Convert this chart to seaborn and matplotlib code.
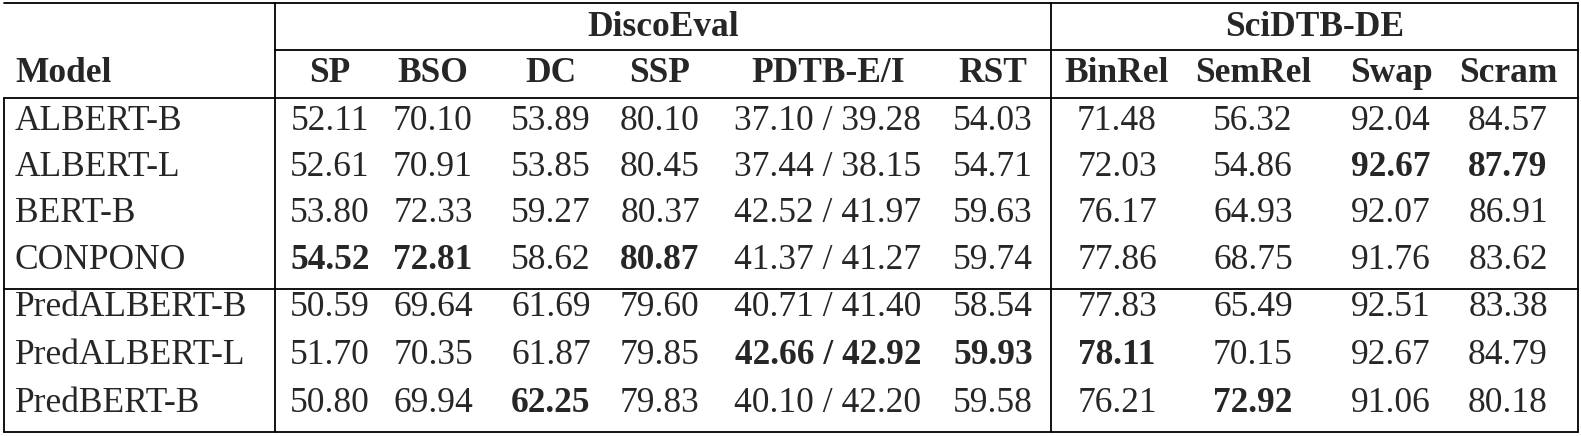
import matplotlib
matplotlib.use("Agg")
import matplotlib.pyplot as plt
import seaborn as sns

sns.set_theme(style="white")
plt.rcParams['font.family'] = ['Liberation Serif', 'DejaVu Serif']

groups = ["DiscoEval", "SciDTB-DE"]
columns = ["SP", "BSO", "DC", "SSP", "PDTB-E/I", "RST", "BinRel", "SemRel", "Swap", "Scram"]
models = ["ALBERT-B", "ALBERT-L", "BERT-B", "CONPONO", "PredALBERT-B", "PredALBERT-L", "PredBERT-B"]
values = [
    ["52.11", "70.10", "53.89", "80.10", "37.10 / 39.28", "54.03", "71.48", "56.32", "92.04", "84.57"],
    ["52.61", "70.91", "53.85", "80.45", "37.44 / 38.15", "54.71", "72.03", "54.86", "92.67", "87.79"],
    ["53.80", "72.33", "59.27", "80.37", "42.52 / 41.97", "59.63", "76.17", "64.93", "92.07", "86.91"],
    ["54.52", "72.81", "58.62", "80.87", "41.37 / 41.27", "59.74", "77.86", "68.75", "91.76", "83.62"],
    ["50.59", "69.64", "61.69", "79.60", "40.71 / 41.40", "58.54", "77.83", "65.49", "92.51", "83.38"],
    ["51.70", "70.35", "61.87", "79.85", "42.66 / 42.92", "59.93", "78.11", "70.15", "92.67", "84.79"],
    ["50.80", "69.94", "62.25", "79.83", "40.10 / 42.20", "59.58", "76.21", "72.92", "91.06", "80.18"],
]
bold = {(3, 0), (3, 1), (3, 3), (1, 8), (1, 9), (5, 4), (5, 5), (5, 6), (6, 2), (6, 7)}

W, H = 1581, 436
fig = plt.figure(figsize=(W / 100, H / 100), dpi=100)
ax = fig.add_axes([0, 0, 1, 1])
ax.set_xlim(0, W)
ax.set_ylim(H, 0)
ax.axis("off")

col_x = [330, 433, 551, 660, 828, 993, 1117, 1253, 1391, 1508]
row_y = [121, 167, 213, 260, 307, 355, 403]
fs = 25.5
lw = 1.3
k = "black"
L, M, G, R = 4, 275, 1051, 1578

ax.plot([L, R], [3, 3], color=k, lw=lw)
ax.plot([M, R], [50, 50], color=k, lw=lw)
ax.plot([L, R], [98, 98], color=k, lw=lw)
ax.plot([L, R], [289, 289], color=k, lw=lw)
ax.plot([L, R], [432, 432], color=k, lw=lw)
ax.plot([L, L], [98, 432], color=k, lw=lw)
for x in [M, G, R]:
    ax.plot([x, x], [3, 432], color=k, lw=lw)

ax.text((M + G) / 2, 27, groups[0], ha="center", va="center", fontsize=fs, fontweight="bold")
ax.text((G + R) / 2, 27, groups[1], ha="center", va="center", fontsize=fs, fontweight="bold")
ax.text(15, 73, "Model", ha="left", va="center", fontsize=fs, fontweight="bold")
for x, c in zip(col_x, columns):
    ax.text(x, 73, c, ha="center", va="center", fontsize=fs, fontweight="bold")

for i, (m, row) in enumerate(zip(models, values)):
    y = row_y[i]
    ax.text(15, y, m, ha="left", va="center", fontsize=fs)
    for j, v in enumerate(row):
        ax.text(col_x[j], y, v, ha="center", va="center", fontsize=fs,
                fontweight="bold" if (i, j) in bold else "normal")

fig.savefig("out.png", dpi=100)
